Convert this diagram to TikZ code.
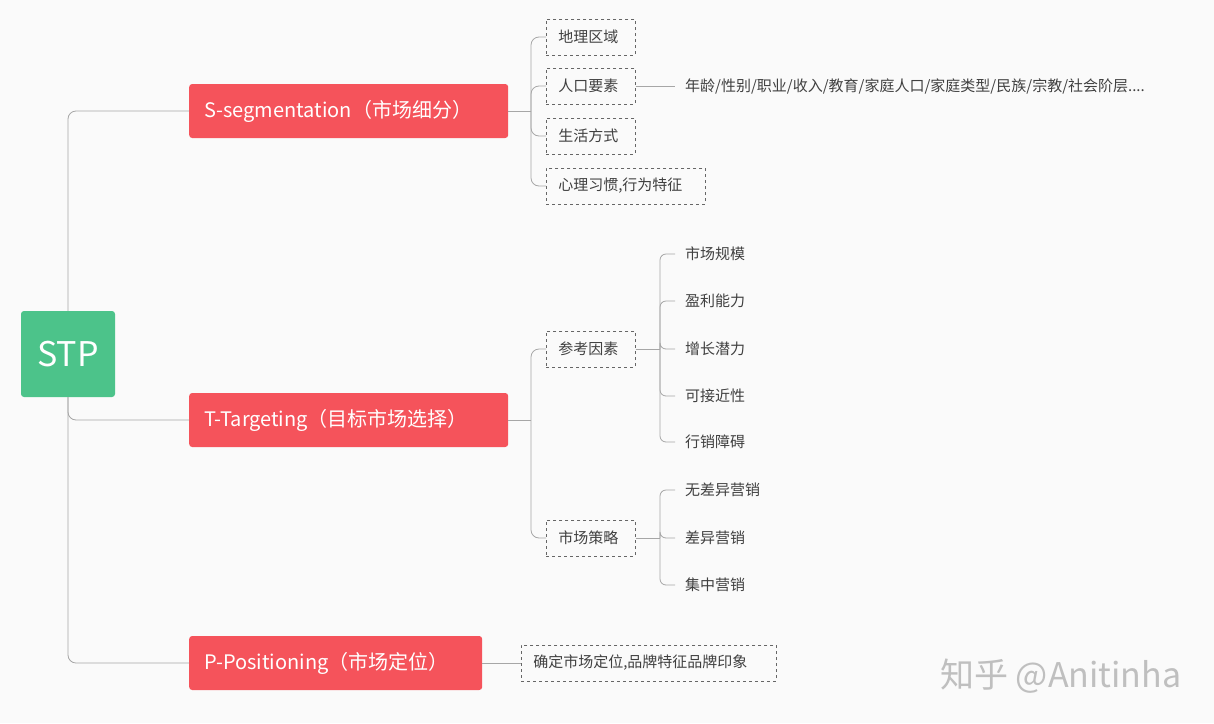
\documentclass[tikz,border=0pt]{standalone}
\usepackage{fontspec}
\setmainfont{Noto Sans CJK SC}
\begin{document}
\begin{tikzpicture}[x=1pt,y=-1pt,
 conn/.style={draw=black!35,line width=0.8pt,rounded corners=8pt},
 red/.style={fill={rgb,255:red,245;green,83;blue,91},rounded corners=3pt,text=white,font=\fontsize{20}{24}\selectfont,anchor=west,inner xsep=15pt,minimum height=54pt,align=left},
 dbox/.style={draw=black!60,dashed,line width=0.5pt,font=\fontsize{15}{18}\selectfont,text=black!75,anchor=west,minimum height=36pt,inner xsep=12pt,align=left},
 leaf/.style={font=\fontsize{15}{18}\selectfont,text=black!75,anchor=west,inner sep=0pt}]
\fill[white!98!black] (0,0) rectangle (1214,723);
\useasboundingbox (0,0) rectangle (1214,723);
\node[fill={rgb,255:red,76;green,195;blue,138},rounded corners=3pt,text=white,minimum width=94pt,minimum height=86pt,font=\fontsize{34}{40}\selectfont] (stp) at (68,354) {STP};
\node[red,text width=289pt] (s) at (189,111) {S-segmentation（市场细分）};
\node[red,text width=289pt] (t) at (189,420) {T-Targeting（目标市场选择）};
\node[red,text width=263pt] (p) at (189,663) {P-Positioning（市场定位）};
\draw[conn] (stp.north) |- (s.west);
\draw[conn] (stp.south) |- (t.west);
\draw[conn] (stp.south) |- (p.west);
% S
\node[dbox,text width=65pt] (s1) at (546,37) {地理区域};
\node[dbox,text width=65pt] (s2) at (546,86) {人口要素};
\node[dbox,text width=65pt] (s3) at (546,136) {生活方式};
\node[dbox,text width=135pt] (s4) at (546,186) {心理习惯,行为特征};
\node[leaf] (s2a) at (685,86) {年龄/性别/职业/收入/教育/家庭人口/家庭类型/民族/宗教/社会阶层....};
\coordinate (sj) at (531,111);
\draw[conn] (s.east) -- (sj);
\foreach \n in {s1,s2,s3,s4} \draw[conn] (sj) |- (\n.west);
\draw[conn] (s2.east) -- ([xshift=-10pt]s2a.west);
% T
\node[dbox,text width=65pt] (t1) at (546,349) {参考因素};
\node[dbox,text width=65pt] (t2) at (546,538) {市场策略};
\coordinate (tj) at (531,420);
\draw[conn] (t.east) -- (tj);
\draw[conn] (tj) |- (t1.west);
\draw[conn] (tj) |- (t2.west);
\node[leaf] (a1) at (685,254) {市场规模};
\node[leaf] (a2) at (685,301) {盈利能力};
\node[leaf] (a3) at (685,349) {增长潜力};
\node[leaf] (a4) at (685,396) {可接近性};
\node[leaf] (a5) at (685,442) {行销障碍};
\coordinate (aj) at (660,349);
\draw[conn] (t1.east) -- (aj);
\foreach \n in {a1,a2,a3,a4,a5} \draw[conn,rounded corners=6pt] (aj) |- ([xshift=-10pt]\n.west);
\node[leaf] (b1) at (685,490) {无差异营销};
\node[leaf] (b2) at (685,538) {差异营销};
\node[leaf] (b3) at (685,585) {集中营销};
\coordinate (bj) at (660,538);
\draw[conn] (t2.east) -- (bj);
\foreach \n in {b1,b2,b3} \draw[conn,rounded corners=6pt] (bj) |- ([xshift=-10pt]\n.west);
% P
\node[dbox,text width=231pt] (p1) at (521,663) {确定市场定位,品牌特征品牌印象};
\draw[conn] (p.east) -- (p1.west);
\node[text=black!25,font=\fontsize{34}{40}\selectfont,anchor=east] (wm) at (1185,676) {知乎 @Anitinha};
\end{tikzpicture}
\end{document}
